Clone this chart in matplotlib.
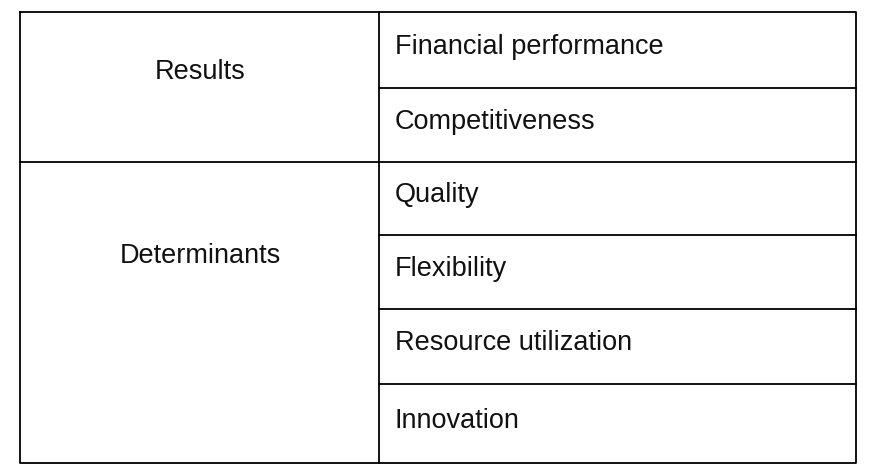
import matplotlib
matplotlib.use("Agg")
import matplotlib.pyplot as plt

groups = ["Results", "Determinants"]
group_rows = [2, 4]
items = ["Financial performance", "Competitiveness", "Quality", "Flexibility",
         "Resource utilization", "Innovation"]

W, H = 879, 476
fig = plt.figure(figsize=(W/100, H/100), dpi=100)
ax = fig.add_axes([0, 0, 1, 1])
ax.set_xlim(0, W); ax.set_ylim(H, 0); ax.axis("off")

row_edges = [12, 88, 162, 235, 309, 384, 463]
x0, xm, x1 = 20, 379, 856
lw = 1.3
ax.plot([x0, x1, x1, x0, x0], [row_edges[0], row_edges[0], row_edges[-1], row_edges[-1], row_edges[0]], color="black", lw=lw)
ax.plot([xm, xm], [row_edges[0], row_edges[-1]], color="black", lw=lw)
font = dict(family="Liberation Sans", fontsize=19.5, color="#111111")
for i, it in enumerate(items):
    if i > 0:
        ax.plot([xm, x1], [row_edges[i]]*2, color="black", lw=lw)
    ax.text(395, (row_edges[i] + row_edges[i+1]) / 2 - 3, it, va="center", ha="left", **font)
start = 0
gy = [72, 256]
for g, n, y in zip(groups, group_rows, gy):
    if start > 0:
        ax.plot([x0, xm], [row_edges[start]]*2, color="black", lw=lw)
    ax.text(200, y, g, ha="center", va="center", **font)
    start += n
fig.savefig("out.png", dpi=100)
